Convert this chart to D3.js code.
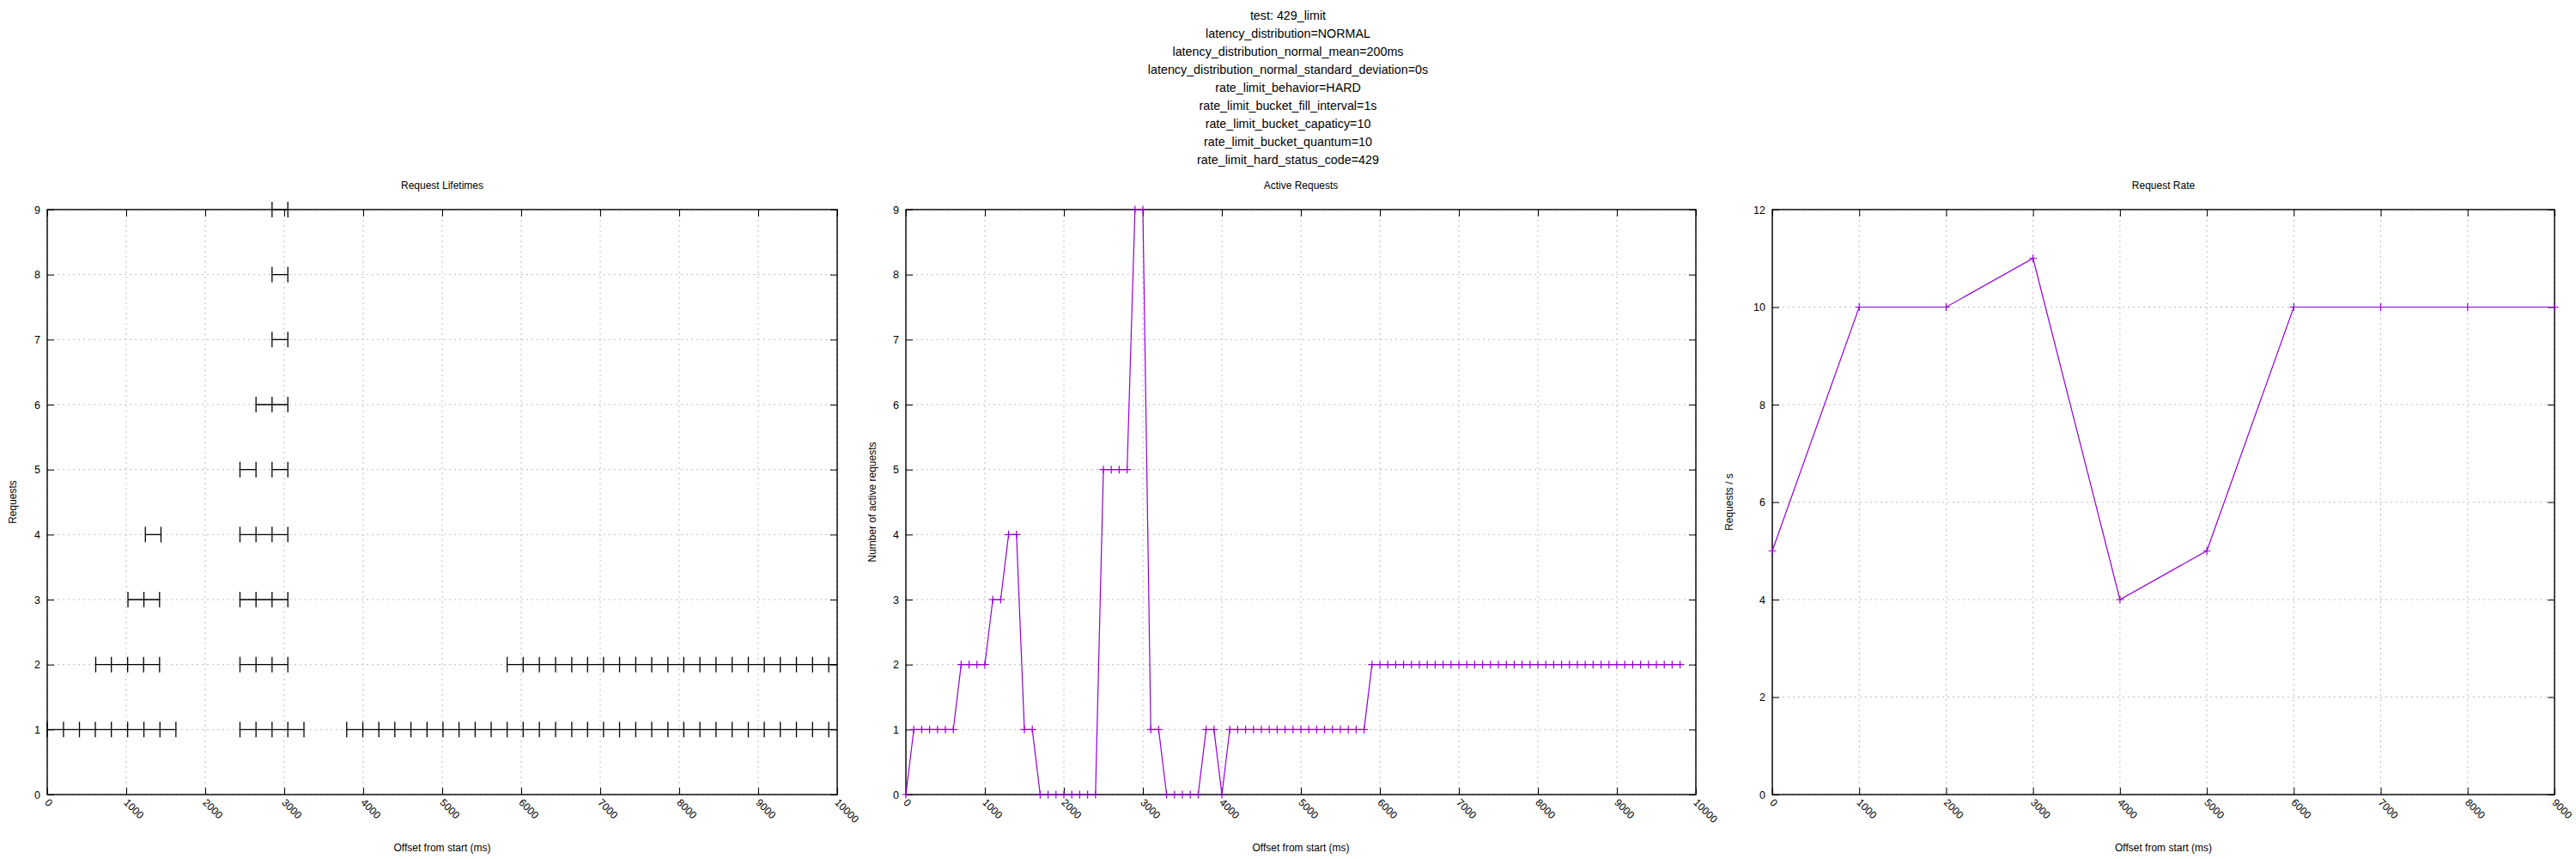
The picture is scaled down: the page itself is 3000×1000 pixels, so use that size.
<!DOCTYPE html>
<html>
<head>
<meta charset="utf-8">
<script src="https://cdn.jsdelivr.net/npm/d3@7"></script>
<style>
  body { margin: 0; background: #fff; }
  text { font-family: "Liberation Sans", Arial, sans-serif; fill: #000; }
</style>
</head>
<body>
<div id="app"></div>
<script>
// header text
const titleLines = [
  'test: 429_limit',
  'latency_distribution=NORMAL',
  'latency_distribution_normal_mean=200ms',
  'latency_distribution_normal_standard_deviation=0s',
  'rate_limit_behavior=HARD',
  'rate_limit_bucket_fill_interval=1s',
  'rate_limit_bucket_capaticy=10',
  'rate_limit_bucket_quantum=10',
  'rate_limit_hard_status_code=429'
]

// Request Lifetimes: chains of back-to-back requests, boundary times in ms
const steadyBoundaries = [5822, 6025, 6230, 6435, 6640, 6840, 7042, 7245, 7450, 7652, 7857, 8058,
  8262, 8466, 8670, 8875, 9077, 9280, 9484, 9688, 9893, 10097]
const lane1Chains = [
  [0, 206, 408, 609, 812, 1018, 1224, 1427, 1629],
  [2440, 2643, 2846, 3046, 3250],
  [3791, 3995, 4198, 4400, 4604, 4808, 5010, 5213, 5417, 5620, ...steadyBoundaries]
]
const lane2Chains = [
  [614, 812, 1018, 1220, 1422],
  [2440, 2643, 2846, 3046],
  steadyBoundaries
]
const lane3Chains = [[1022, 1224, 1422], [2440, 2643, 2846, 3046]]
const lane4Chains = [[1242, 1440], [2440, 2643, 2846, 3046]]
const lane5Chains = [[2440, 2643], [2846, 3046]]
const lane6Chains = [[2643, 2846, 3046]]
const lane7Chains = [[2846, 3046]]
const lane8Chains = [[2846, 3046]]
const lane9Chains = [[2846, 3046]]
const lanes = [lane1Chains, lane2Chains, lane3Chains, lane4Chains, lane5Chains,
  lane6Chains, lane7Chains, lane8Chains, lane9Chains]

// Active Requests
const activeTimes = [0, 100, 200, 300, 400, 500, 600, 700, 800, 900, 1000, 1100, 1200, 1300, 1400,
  1500, 1600, 1700, 1800, 1900, 2000, 2100, 2200, 2300, 2400, 2500, 2600, 2700, 2800, 2900, 3000,
  3100, 3200, 3300, 3400, 3500, 3600, 3700, 3800, 3900, 4000, 4100, 4200, 4300, 4400, 4500, 4600,
  4700, 4800, 4900, 5000, 5100, 5200, 5300, 5400, 5500, 5600, 5700, 5800, 5900, 6000, 6100, 6200,
  6300, 6400, 6500, 6600, 6700, 6800, 6900, 7000, 7100, 7200, 7300, 7400, 7500, 7600, 7700, 7800,
  7900, 8000, 8100, 8200, 8300, 8400, 8500, 8600, 8700, 8800, 8900, 9000, 9100, 9200, 9300, 9400,
  9500, 9600, 9700, 9800]
const activeValues = [0, 1, 1, 1, 1, 1, 1, 2, 2, 2, 2, 3, 3, 4, 4,
  1, 1, 0, 0, 0, 0, 0, 0, 0, 0, 5, 5, 5, 5, 9, 9,
  1, 1, 0, 0, 0, 0, 0, 1, 1, 0, 1, 1, 1, 1, 1, 1,
  1, 1, 1, 1, 1, 1, 1, 1, 1, 1, 1, 1, 2, 2, 2, 2,
  2, 2, 2, 2, 2, 2, 2, 2, 2, 2, 2, 2, 2, 2, 2, 2,
  2, 2, 2, 2, 2, 2, 2, 2, 2, 2, 2, 2, 2, 2, 2, 2,
  2, 2, 2, 2]

// Request Rate
const rateTimes = [0, 1000, 2000, 3000, 4000, 5000, 6000, 7000, 8000, 9000]
const rateValues = [5, 10, 10, 11, 4, 5, 10, 10, 10, 10]

// ticks
const msTicks = [0, 1000, 2000, 3000, 4000, 5000, 6000, 7000, 8000, 9000, 10000]
const rateMsTicks = [0, 1000, 2000, 3000, 4000, 5000, 6000, 7000, 8000, 9000]
const countTicks = [0, 1, 2, 3, 4, 5, 6, 7, 8, 9]
const rateTicks = [0, 2, 4, 6, 8, 10, 12]

const plotTop = 244
const plotBottom = 925
const violet = '#9400d3'

const svg = d3.select('#app')
              .append('svg')
                .attr('width', 3000)
                .attr('height', 1000)
                .style('display', 'block')

svg.append('rect')
    .attr('width', 3000)
    .attr('height', 1000)
    .attr('fill', '#fff')

svg.append('g')
    .selectAll('text')
    .data(titleLines)
    .join('text')
      .attr('x', 1500)
      .attr('y', (d, i) => 23 + i * 21)
      .attr('text-anchor', 'middle')
      .style('font-size', '14.3px')
      .text(d => d)

function drawPanel(p) {
  const g = svg.append('g')
  const x = d3.scaleLinear().domain([0, p.xMax]).range([p.left, p.right])
  const y = d3.scaleLinear().domain([0, p.yMax]).range([plotBottom, plotTop])

  // grid
  g.append('g')
    .selectAll('line')
    .data(p.xTicks)
    .join('line')
      .attr('x1', d => x(d)).attr('x2', d => x(d))
      .attr('y1', plotTop).attr('y2', plotBottom)
      .attr('stroke', '#bdbdbd')
      .attr('stroke-dasharray', '2,4')
  g.append('g')
    .selectAll('line')
    .data(p.yTicks)
    .join('line')
      .attr('x1', p.left).attr('x2', p.right)
      .attr('y1', d => y(d)).attr('y2', d => y(d))
      .attr('stroke', '#bdbdbd')
      .attr('stroke-dasharray', '2,4')

  // tick marks on all four sides, pointing inward
  const bottomAxis = g.append('g')
      .attr('transform', `translate(0, ${plotBottom})`)
      .call(d3.axisBottom(x).tickValues(p.xTicks).tickFormat(d3.format('d'))
              .tickSizeInner(-8).tickSizeOuter(0))
  bottomAxis.selectAll('.tick text')
      .attr('y', 0)
      .attr('dy', 0)
      .attr('text-anchor', 'start')
      .attr('transform', 'translate(-4, 10) rotate(45)')
      .style('font-size', '12px')
  g.append('g')
      .attr('transform', `translate(0, ${plotTop})`)
      .call(d3.axisTop(x).tickValues(p.xTicks).tickSizeInner(-8).tickSizeOuter(0).tickFormat(''))
  g.append('g')
      .attr('transform', `translate(${p.left}, 0)`)
      .call(d3.axisLeft(y).tickValues(p.yTicks).tickFormat(d3.format('d'))
              .tickSizeInner(-8).tickSizeOuter(0).tickPadding(8))
    .selectAll('.tick text')
      .style('font-size', '12.5px')
  g.append('g')
      .attr('transform', `translate(${p.right}, 0)`)
      .call(d3.axisRight(y).tickValues(p.yTicks).tickSizeInner(-8).tickSizeOuter(0).tickFormat(''))
  g.selectAll('.domain').remove()
  g.selectAll('.tick line').attr('stroke', '#000')

  g.append('rect')
      .attr('x', p.left)
      .attr('y', plotTop)
      .attr('width', p.right - p.left)
      .attr('height', plotBottom - plotTop)
      .attr('fill', 'none')
      .attr('stroke', '#000')
      .attr('stroke-width', 1.4)

  // labels
  g.append('text')
      .attr('x', (p.left + p.right) / 2)
      .attr('y', 220)
      .attr('text-anchor', 'middle')
      .style('font-size', '12px')
      .text(p.title)
  g.append('text')
      .attr('x', (p.left + p.right) / 2)
      .attr('y', 991)
      .attr('text-anchor', 'middle')
      .style('font-size', '12px')
      .text('Offset from start (ms)')
  g.append('text')
      .attr('transform', `translate(${p.yLabelX}, ${(plotTop + plotBottom) / 2}) rotate(-90)`)
      .attr('text-anchor', 'middle')
      .attr('dy', '0.35em')
      .style('font-size', '12px')
      .text(p.yLabel)

  return { g, x, y }
}

const crossPath = 'M-4.5,0H4.5M0,-4.5V4.5'

// Request Lifetimes
const lifetimes = drawPanel({
  title: 'Request Lifetimes', yLabel: 'Requests', yLabelX: 15,
  left: 55, right: 975, xMax: 10000, yMax: 9, xTicks: msTicks, yTicks: countTicks
})
svg.append('clipPath')
    .attr('id', 'clip-life')
  .append('rect')
    .attr('x', 50)
    .attr('y', 0)
    .attr('width', 975 - 50)
    .attr('height', 1000)
const lifeG = lifetimes.g.append('g').attr('clip-path', 'url(#clip-life)')
lanes.forEach((chains, i) => {
  const lane = i + 1
  const yy = lifetimes.y(lane)
  chains.forEach(chain => {
    lifeG.append('line')
        .attr('x1', lifetimes.x(chain[0]))
        .attr('x2', lifetimes.x(chain[chain.length - 1]))
        .attr('y1', yy).attr('y2', yy)
        .attr('stroke', '#000')
        .attr('stroke-width', 1.3)
    lifeG.selectAll(null)
        .data(chain)
        .join('line')
          .attr('x1', d => lifetimes.x(d)).attr('x2', d => lifetimes.x(d))
          .attr('y1', yy - 9).attr('y2', yy + 9)
          .attr('stroke', '#000')
          .attr('stroke-width', 1.3)
  })
})

// Active Requests
const active = drawPanel({
  title: 'Active Requests', yLabel: 'Number of active requests', yLabelX: 1016,
  left: 1055, right: 1975, xMax: 10000, yMax: 9, xTicks: msTicks, yTicks: countTicks
})
const activeData = activeTimes.map((t, i) => ({ t, v: activeValues[i] }))
active.g.append('path')
    .datum(activeData)
    .attr('d', d3.line().x(d => active.x(d.t)).y(d => active.y(d.v)))
    .attr('fill', 'none')
    .attr('stroke', violet)
    .attr('stroke-width', 1.2)
active.g.selectAll('.pt')
    .data(activeData)
    .join('path')
      .attr('class', 'pt')
      .attr('transform', d => `translate(${active.x(d.t)}, ${active.y(d.v)})`)
      .attr('d', crossPath)
      .attr('stroke', violet)
      .attr('stroke-width', 1.2)

// Request Rate
const rate = drawPanel({
  title: 'Request Rate', yLabel: 'Requests / s', yLabelX: 2014,
  left: 2064, right: 2975, xMax: 9000, yMax: 12, xTicks: rateMsTicks, yTicks: rateTicks
})
const rateData = rateTimes.map((t, i) => ({ t, v: rateValues[i] }))
rate.g.append('path')
    .datum(rateData)
    .attr('d', d3.line().x(d => rate.x(d.t)).y(d => rate.y(d.v)))
    .attr('fill', 'none')
    .attr('stroke', violet)
    .attr('stroke-width', 1.2)
rate.g.selectAll('.pt')
    .data(rateData)
    .join('path')
      .attr('class', 'pt')
      .attr('transform', d => `translate(${rate.x(d.t)}, ${rate.y(d.v)})`)
      .attr('d', crossPath)
      .attr('stroke', violet)
      .attr('stroke-width', 1.2)
</script>
</body>
</html>
